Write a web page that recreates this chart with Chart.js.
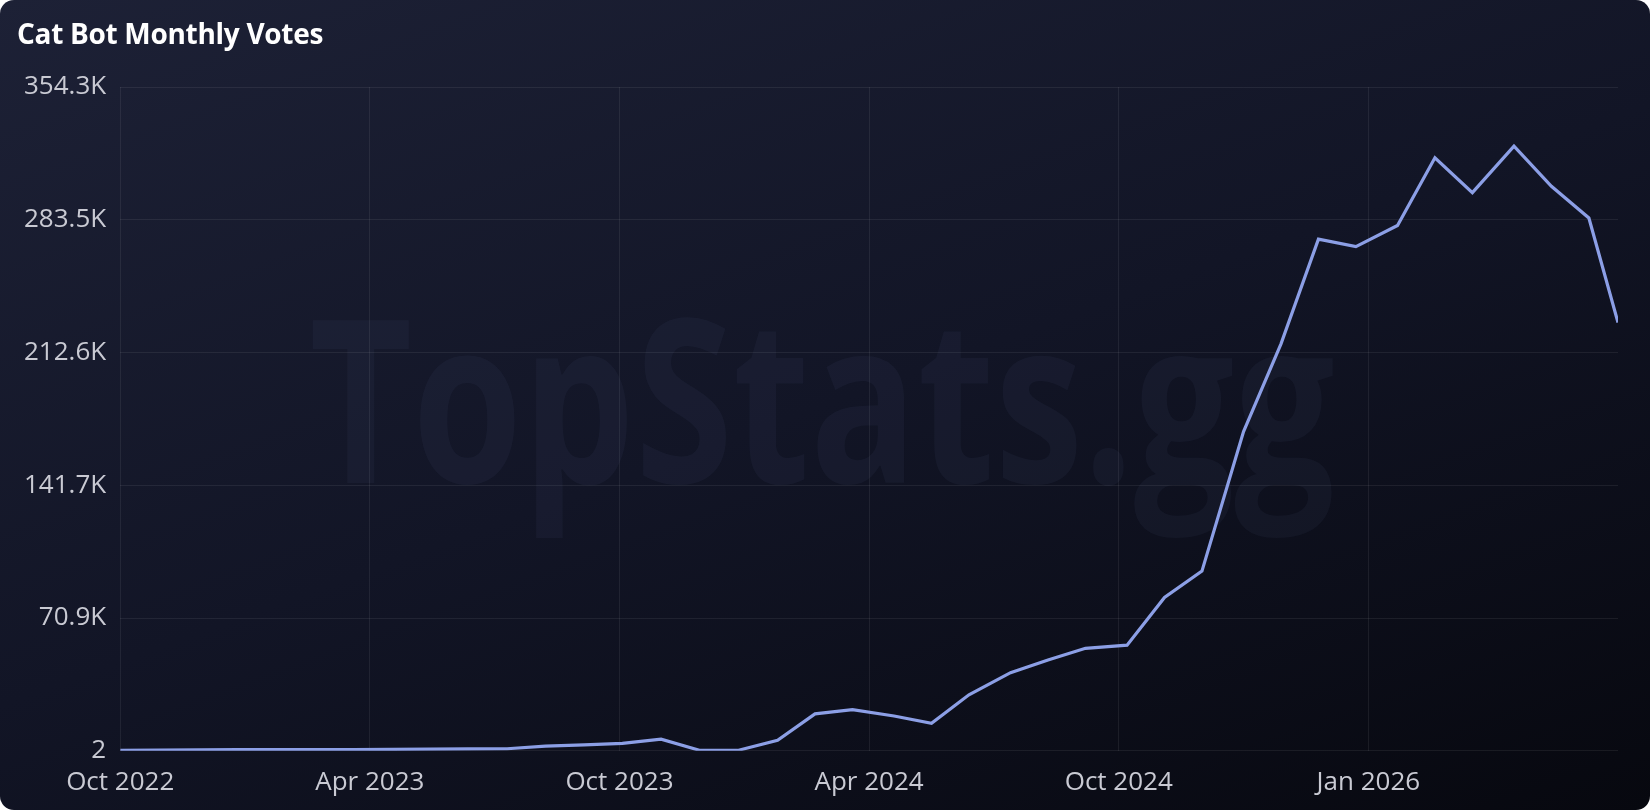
<!DOCTYPE html>
<html>
<head>
<meta charset="utf-8">
<script src="https://cdn.jsdelivr.net/npm/chart.js@4"></script>
<style>
  html, body { margin: 0; padding: 0; background: #fff; overflow: hidden; }
  .card {
    position: absolute; left: 0; top: 0; width: 1650px; height: 810px;
    border-radius: 14px; overflow: hidden;
    background: linear-gradient(160deg, #1d2136 0%, #121526 50%, #07080f 100%);
  }
  .title {
    position: absolute; left: 17px; top: 14px; color: #fff;
    font: bold 28px "Open Sans", sans-serif; letter-spacing: -0.3px;
  }
  #chart { position: absolute; left: 0; top: 0; }
</style>
</head>
<body>
<div class="card">
  <canvas id="chart" width="1650" height="829"></canvas>
  <div class="title">Cat Bot Monthly Votes</div>
</div>
<script>
// x in months since Oct 2022
const months = [0, 0.97, 1.9, 2.82, 3.75, 4.67, 5.6, 6.52, 7.45, 8.37, 9.3, 10.22, 11.15, 12.07, 13.0, 13.92, 14.84, 15.8, 16.7, 17.6,
  18.6, 19.5, 20.4, 21.4, 22.3, 23.2, 24.2, 25.1, 26.0, 27.0, 27.9, 28.8, 29.7, 30.7, 31.6, 32.5, 33.5, 34.4, 35.3, 36.0];
const votes = [300, 400, 500, 600, 700, 700, 600, 800, 900, 1000, 1100, 2500, 3200, 4000, 6200, 300, 200, 5600, 19700, 22000,
  18600, 14700, 29900, 41700, 48500, 54700, 56400, 81800, 95900, 170400, 217200, 273100, 269100, 280400, 316500, 297900, 322700, 301300, 284400, 228600];
const xTickLabels = ['Oct 2022', 'Apr 2023', 'Oct 2023', 'Apr 2024', 'Oct 2024', 'Jan 2026'];
const yTickLabels = ['2', '70.9K', '141.7K', '212.6K', '283.5K', '354.3K'];

const watermark = {
  id: 'watermark',
  beforeDatasetsDraw(chart) {
    const c = chart.ctx;
    c.save();
    c.translate(822, 418);
    c.scale(0.78, 1);
    c.font = 'bold 228px "Open Sans", sans-serif';
    c.fillStyle = 'rgba(140,150,210,0.05)';
    c.textAlign = 'center';
    c.textBaseline = 'middle';
    c.fillText('TopStats.gg', 0, 0);
    c.restore();
  }
};

new Chart(document.getElementById('chart'), {
  type: 'line',
  data: {
    datasets: [{
      data: months.map((m, i) => ({ x: m, y: votes[i] })),
      borderColor: '#8c9fe6',
      borderWidth: 3.2,
      pointRadius: 0,
      tension: 0
    }]
  },
  options: {
    responsive: false,
    animation: false,
    layout: { padding: { top: 87, right: 32, left: 10, bottom: 15 } },
    plugins: { legend: { display: false }, tooltip: { enabled: false } },
    scales: {
      x: {
        type: 'linear', min: 0, max: 36,
        ticks: {
          stepSize: 6, color: '#c9cad3', font: { size: 26, family: '"Open Sans", sans-serif' },
          maxRotation: 0, padding: 16,
          callback: (v) => xTickLabels[v / 6]
        },
        grid: { color: 'rgba(255,255,255,0.07)', drawTicks: false },
        border: { display: false }
      },
      y: {
        min: 2, max: 354300,
        afterBuildTicks: (axis) => {
          axis.ticks = yTickLabels.map((l, i) => ({ value: 2 + i * (354300 - 2) / 5 }));
        },
        ticks: {
          color: '#c9cad3', font: { size: 26, family: '"Open Sans", sans-serif' }, padding: 14,
          callback: (v, i) => yTickLabels[i]
        },
        grid: { color: 'rgba(255,255,255,0.07)', drawTicks: false },
        border: { display: false }
      }
    }
  },
  plugins: [watermark]
});
</script>
</body>
</html>
